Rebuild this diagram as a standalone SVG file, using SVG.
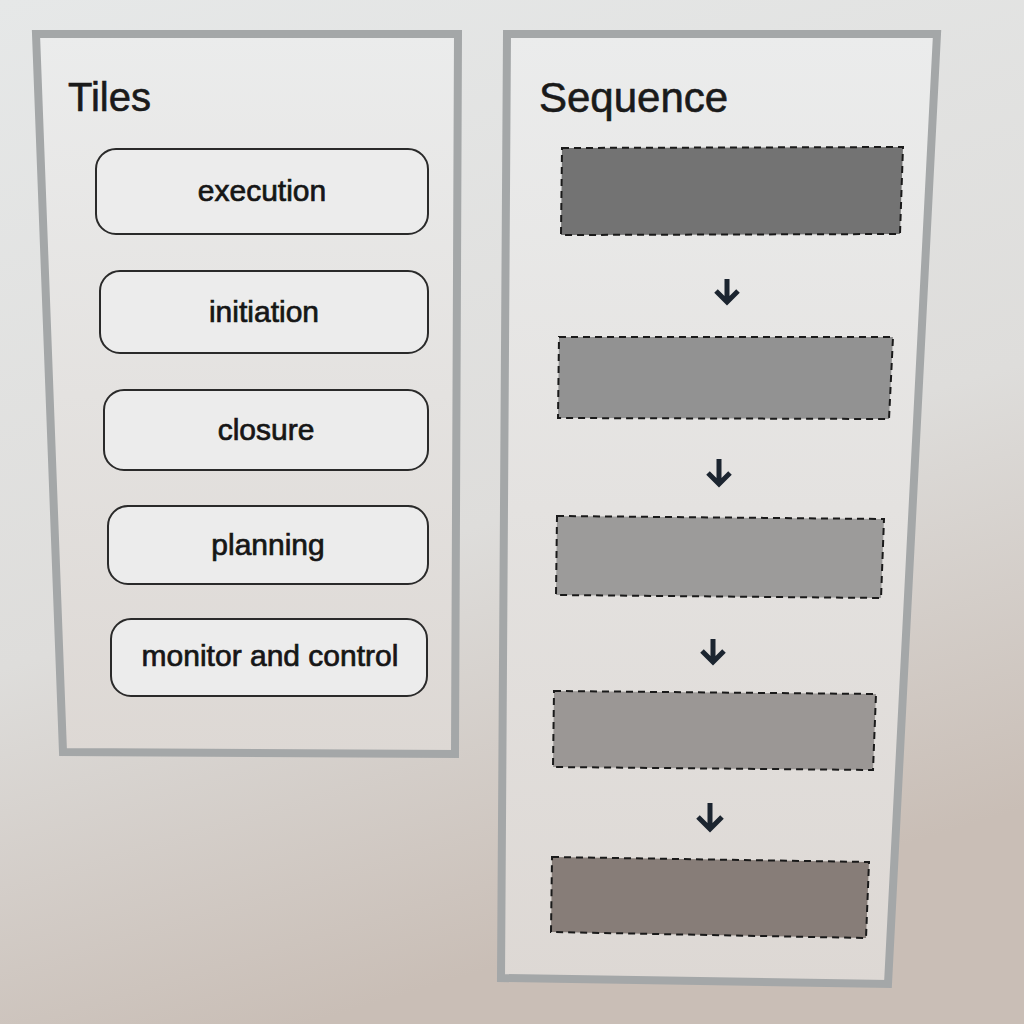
<svg xmlns="http://www.w3.org/2000/svg" width="1024" height="1024" viewBox="0 0 1024 1024">
<defs>
<linearGradient id="bg" x1="0" y1="0" x2="0.3" y2="1">
<stop offset="0" stop-color="#e6e8e8"/>
<stop offset="0.6" stop-color="#dedddb"/>
<stop offset="1" stop-color="#c9beb6"/>
</linearGradient>
<linearGradient id="pan" x1="0" y1="0" x2="0" y2="1">
<stop offset="0" stop-color="#ebecec"/>
<stop offset="1" stop-color="#ddd8d4"/>
</linearGradient>
</defs>
<style>
.panel{fill:url(#pan);stroke:#a4a7a8;stroke-width:8;stroke-linejoin:miter}
.tile{fill:#ececec;stroke:#2a2a2a;stroke-width:2}
.slot{stroke:#1a1a1a;stroke-width:2;stroke-dasharray:7 5}
.title{font-family:"Liberation Sans",Arial,sans-serif;fill:#1a1a1a;stroke:#1a1a1a;stroke-width:0.6}
.lbl{font-family:"Liberation Sans",Arial,sans-serif;font-size:30px;fill:#161616;stroke:#161616;stroke-width:0.7;text-anchor:middle}
.arr{fill:none;stroke:#1c2530;stroke-width:5;stroke-linecap:butt;stroke-linejoin:miter}
</style>
<rect width="1024" height="1024" fill="url(#bg)"/>
<g id="tiles-panel">
<polygon class="panel" points="36,34 458,34 455,754 63,752"/>
<text class="title" x="68" y="111" font-size="40">Tiles</text>
</g>
<g id="sequence-panel">
<polygon class="panel" points="507,34 937,34 888,984 501,978"/>
<text class="title" x="539" y="112" font-size="42">Sequence</text>
</g>
<g id="tile-execution">
<rect class="tile" x="96" y="149" width="332" height="85" rx="20"/>
<text class="lbl" x="262" y="201">execution</text>
</g>
<g id="tile-initiation">
<rect class="tile" x="100" y="271" width="328" height="82" rx="20"/>
<text class="lbl" x="264" y="322">initiation</text>
</g>
<g id="tile-closure">
<rect class="tile" x="104" y="390" width="324" height="80" rx="20"/>
<text class="lbl" x="266" y="440">closure</text>
</g>
<g id="tile-planning">
<rect class="tile" x="108" y="506" width="320" height="78" rx="20"/>
<text class="lbl" x="268" y="555">planning</text>
</g>
<g id="tile-monitor">
<rect class="tile" x="111" y="619" width="316" height="77" rx="20"/>
<text class="lbl" x="270" y="666">monitor and control</text>
</g>
<g id="slot-1"><polygon class="slot" fill="#737373" points="562,148 903,147 900,234 561,235"/></g>
<g id="slot-2"><polygon class="slot" fill="#929292" points="559,337 893,337 889,419 558,418"/></g>
<g id="slot-3"><polygon class="slot" fill="#9c9b9a" points="557,516 884,519 881,598 556,595"/></g>
<g id="slot-4"><polygon class="slot" fill="#9b9795" points="554,691 876,694 873,770 553,767"/></g>
<g id="slot-5"><polygon class="slot" fill="#877d78" points="552,857 869,862 866,938 551,932"/></g>
<g id="connectors">
<path class="arr" d="M727 279 V301 M716 291 L727 302 L738 291"/>
<path class="arr" d="M719 459 V484 M708 473 L719 484 L730 473"/>
<path class="arr" d="M713 639 V662 M702 651 L713 662 L724 651"/>
<path class="arr" d="M710 803 V829 M698 817 L710 829 L722 817"/>
</g>
</svg>
